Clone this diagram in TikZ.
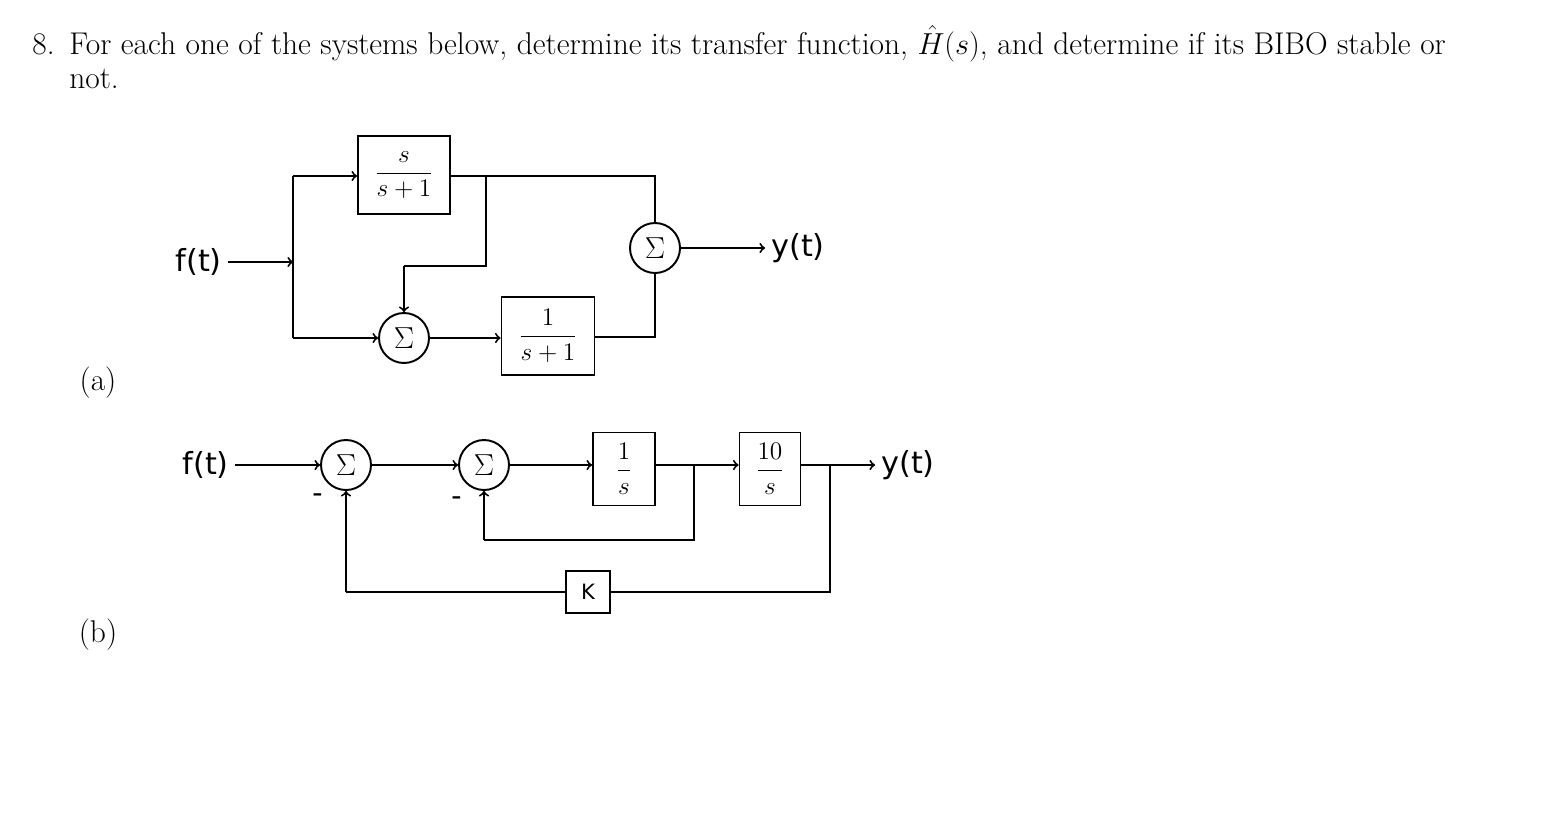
\documentclass[tikz,border=0pt]{standalone}
\usepackage{fontspec}
\setsansfont{DejaVu Sans}
\begin{document}
\begin{tikzpicture}[x=0.02cm,y=-0.02cm,
  blk/.style={draw,line width=1.1pt,minimum width=#1,inner sep=0pt,font=\sffamily\Large},
  sm/.style={draw,circle,line width=1.1pt,minimum size=50*0.02cm,inner sep=0pt,font=\LARGE},
  ln/.style={line width=1.1pt},
  ar/.style={line width=1.1pt,-to},
  txt/.style={font=\fontsize{17.9}{21}\selectfont},
  hand/.style={font=\sffamily\LARGE}]
\useasboundingbox (0,0) rectangle (1562,825);
\node[anchor=base west,txt,inner sep=0pt] (q) at (32,54) {8.};
\node[anchor=base west,txt,inner sep=0pt] (q1) at (69,54) {For each one of the systems below, determine its transfer function, $\hat H(s)$, and determine if its BIBO stable or};
\node[anchor=base west,txt,inner sep=0pt] (q2) at (69,88) {not.};
\node[txt] (la) at (98,383) {(a)};
\node[txt] (lb) at (98,635) {(b)};
% (a)
\node[blk=92*0.02cm,minimum height=78*0.02cm] (b1) at (404,175) {$\displaystyle\frac{s}{s+1}$};
\node[blk=93*0.02cm,minimum height=78*0.02cm] (b2) at (548,336) {$\displaystyle\frac{1}{s+1}$};
\node[sm] (s1) at (404,338) {$\Sigma$};
\node[sm] (s2) at (655,248) {$\Sigma$};
\node[hand,anchor=east] (fa) at (228,262) {f(t)};
\node[hand,anchor=west] (ya) at (765,248) {y(t)};
\coordinate (j1) at (293,262);
\draw[ar] (fa) -- (j1);
\draw[ln] (293,176) -- (293,338);
\draw[ar] (293,176) -- (b1.west|-293,176);
\draw[ar] (293,338) -- (s1.west);
\draw[ln] (b1.east|-0,176) -- (655,176) -- (s2.north);
\draw[ln] (486,176) -- (486,266) -- (404,266);
\draw[ar] (404,266) -- (s1.north);
\draw[ar] (s1.east) -- (b2.west|-0,338);
\draw[ln] (b2.east|-0,337) -- (655,337) -- (s2.south);
\draw[ar] (s2.east) -- (ya);
% (b)
\node[sm] (t1) at (346,465) {$\Sigma$};
\node[sm] (t2) at (484,465) {$\Sigma$};
\node[blk=62*0.02cm,minimum height=73*0.02cm] (c1) at (624,469) {$\displaystyle\frac{1}{s}$};
\node[blk=61*0.02cm,minimum height=73*0.02cm] (c2) at (770,469) {$\displaystyle\frac{10}{s}$};
\node[blk=44*0.02cm,minimum height=42*0.02cm,font=\sffamily\large] (k) at (588,592) {K};
\node[hand,anchor=east] (fb) at (235,465) {f(t)};
\node[hand,anchor=west] (yb) at (875,465) {y(t)};
\draw[ar] (fb.east) -- (t1.west);
\draw[ar] (t1.east) -- (t2.west);
\draw[ar] (t2.east) -- (c1.west|-0,465);
\draw[ar] (c1.east|-0,465) -- (c2.west|-0,465);
\draw[ln] (694,465) -- (694,540) -- (484,540);
\draw[ar] (484,540) -- (t2.south);
\draw[ar] (c2.east|-0,465) -- (yb);
\draw[ln] (830,465) -- (830,592) -- (k.east);
\draw[ln] (k.west) -- (346,592);
\draw[ar] (346,592) -- (t1.south);
\node[font=\bfseries\Large] (m1) at (318,497) {-};
\node[font=\bfseries\Large] (m2) at (457,500) {-};
\end{tikzpicture}
\end{document}
